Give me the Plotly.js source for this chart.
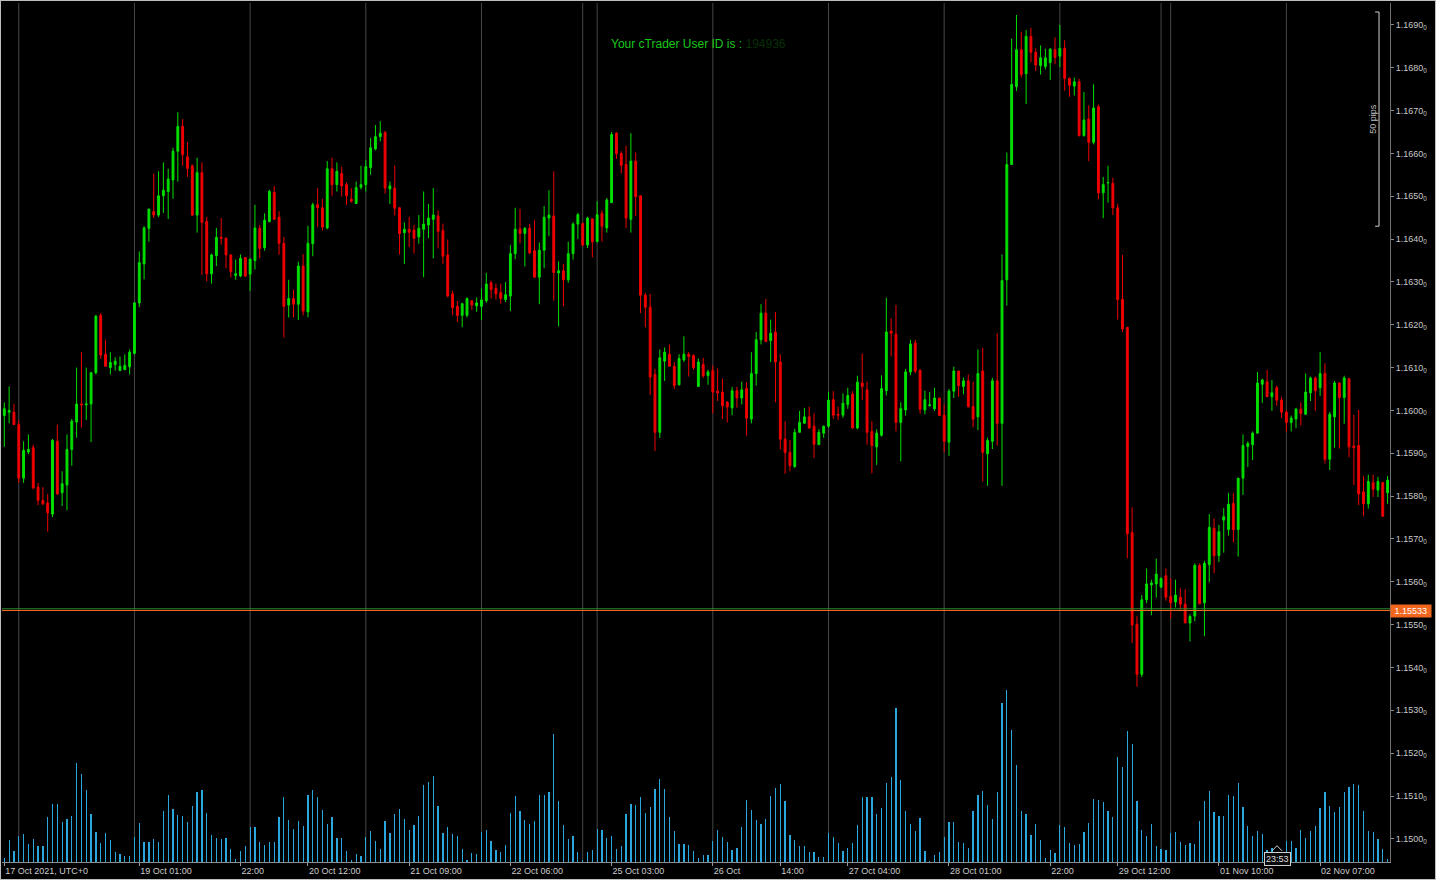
<!DOCTYPE html>
<html><head><meta charset="utf-8">
<script src="https://cdn.plot.ly/plotly-3.0.1.min.js"></script>
<style>
html,body{margin:0;padding:0;background:#000;overflow:hidden;}
#wrap{position:absolute;left:0;top:0;width:1434px;height:878px;border:1px solid #bdbdbd;background:#000;}
#chart{width:1434px;height:878px;}
</style></head><body><div id="wrap"><div id="chart"></div></div>
<script>
// EURUSD-like H1 candles, index 0 = 17 Oct 2021 21:00 UTC
const openP = [
1.15988,1.15996,1.15996,1.15967,1.15842,1.15903,1.15913,1.15821,1.15790,1.15784,
1.15758,1.15928,1.15808,1.15826,1.15909,1.15973,1.16015,1.16013,1.16015,1.16088,
1.16222,1.16131,1.16100,1.16107,1.16093,1.16095,1.16102,1.16133,1.16251,1.16342,
1.16425,1.16464,1.16456,1.16501,1.16511,1.16538,1.16605,1.16663,1.16592,1.16571,
1.16456,1.16555,1.16441,1.16319,1.16361,1.16404,1.16402,1.16363,1.16315,1.16314,
1.16357,1.16318,1.16350,1.16425,1.16380,1.16441,1.16509,1.16451,1.16390,1.16246,
1.16261,1.16248,1.16337,1.16230,1.16389,1.16480,1.16473,1.16426,1.16564,1.16527,
1.16553,1.16527,1.16493,1.16483,1.16521,1.16527,1.16567,1.16610,1.16639,1.16649,
1.16517,1.16519,1.16473,1.16415,1.16423,1.16421,1.16405,1.16423,1.16433,1.16446,
1.16454,1.16420,1.16363,1.16272,1.16243,1.16222,1.16222,1.16256,1.16244,1.16243,
1.16256,1.16298,1.16285,1.16275,1.16259,1.16267,1.16366,1.16423,1.16413,1.16425,
1.16373,1.16311,1.16374,1.16449,1.16454,1.16321,1.16326,1.16305,1.16366,1.16435,
1.16436,1.16386,1.16447,1.16394,1.16460,1.16426,1.16485,1.16647,1.16600,1.16574,
1.16446,1.16582,1.16501,1.16269,1.16241,1.16084,1.15949,1.16115,1.16131,1.16103,
1.16060,1.16118,1.16131,1.16128,1.16056,1.16107,1.16081,1.16093,1.16045,1.16043,
1.16019,1.16006,1.16046,1.16029,1.16051,1.15980,1.16086,1.16165,1.16227,1.16163,
1.16183,1.16113,1.15933,1.15902,1.15869,1.15949,1.15970,1.15985,1.15963,1.15920,
1.15947,1.15963,1.16025,1.15991,1.15989,1.16014,1.16038,1.15959,1.16064,1.16048,
1.15951,1.15915,1.15942,1.16046,1.16185,1.16178,1.15972,1.16001,1.16090,1.16157,
1.16093,1.16001,1.16011,1.16004,1.16029,1.15989,1.15926,1.16045,1.16092,1.16056,
1.16069,1.16009,1.15985,1.16092,1.15899,1.15928,1.16069,1.15970,1.16305,1.16574,
1.16756,1.16842,1.16786,1.16873,1.16836,1.16805,1.16803,1.16812,1.16842,1.16827,
1.16845,1.16775,1.16757,1.16767,1.16642,1.16680,1.16626,1.16709,1.16508,1.16531,
1.16530,1.16473,1.16259,1.16194,1.15715,1.15501,1.15384,1.15558,1.15593,1.15595,
1.15588,1.15614,1.15566,1.15553,1.15564,1.15548,1.15504,1.15520,1.15638,1.15551,
1.15640,1.15725,1.15661,1.15744,1.15722,1.15783,1.15722,1.15842,1.15916,1.15920,
1.15947,1.16061,1.16067,1.16032,1.16053,1.16024,1.15996,1.15972,1.15980,1.16003,
1.15991,1.16041,1.16076,1.16053,1.16086,1.15886,1.15985,1.16064,1.16030,1.16074,
1.15917,1.15918,1.15810,1.15782,1.15832,1.15814,1.15832,1.15808];
const highP = [
1.16019,1.16056,1.16015,1.15977,1.15928,1.15944,1.15920,1.15831,1.15821,1.15805,
1.15933,1.15967,1.15858,1.15944,1.15980,1.16100,1.16136,1.16100,1.16090,1.16223,
1.16227,1.16165,1.16136,1.16124,1.16126,1.16131,1.16142,1.16253,1.16371,1.16430,
1.16470,1.16553,1.16558,1.16579,1.16564,1.16613,1.16696,1.16680,1.16626,1.16574,
1.16590,1.16579,1.16452,1.16366,1.16426,1.16449,1.16404,1.16364,1.16352,1.16364,
1.16358,1.16355,1.16480,1.16433,1.16460,1.16515,1.16524,1.16465,1.16405,1.16305,
1.16282,1.16347,1.16365,1.16431,1.16485,1.16519,1.16494,1.16582,1.16590,1.16579,
1.16569,1.16532,1.16519,1.16534,1.16571,1.16584,1.16636,1.16666,1.16675,1.16652,
1.16534,1.16572,1.16475,1.16439,1.16452,1.16433,1.16456,1.16511,1.16482,1.16519,
1.16467,1.16436,1.16399,1.16279,1.16256,1.16251,1.16264,1.16256,1.16264,1.16284,
1.16321,1.16303,1.16296,1.16296,1.16300,1.16386,1.16473,1.16470,1.16428,1.16435,
1.16444,1.16392,1.16477,1.16514,1.16558,1.16348,1.16342,1.16394,1.16439,1.16461,
1.16439,1.16452,1.16449,1.16488,1.16467,1.16496,1.16650,1.16650,1.16605,1.16618,
1.16647,1.16602,1.16501,1.16275,1.16272,1.16097,1.16142,1.16147,1.16154,1.16113,
1.16131,1.16173,1.16136,1.16131,1.16121,1.16123,1.16095,1.16105,1.16098,1.16074,
1.16022,1.16055,1.16055,1.16067,1.16066,1.16136,1.16183,1.16248,1.16260,1.16212,
1.16230,1.16131,1.15975,1.15931,1.15957,1.15999,1.16006,1.16009,1.15993,1.15956,
1.15965,1.16043,1.16045,1.16009,1.16040,1.16053,1.16045,1.16081,1.16133,1.16067,
1.15975,1.15956,1.16082,1.16263,1.16215,1.16246,1.16019,1.16097,1.16165,1.16165,
1.16097,1.16046,1.16043,1.16053,1.16029,1.16014,1.16050,1.16102,1.16092,1.16077,
1.16084,1.16067,1.16142,1.16146,1.15936,1.16076,1.16180,1.16364,1.16602,1.16868,
1.16923,1.16884,1.16888,1.16893,1.16845,1.16852,1.16844,1.16846,1.16871,1.16900,
1.16864,1.16777,1.16777,1.16774,1.16743,1.16712,1.16761,1.16714,1.16545,1.16571,
1.16543,1.16483,1.16363,1.16194,1.15774,1.15520,1.15569,1.15631,1.15605,1.15654,
1.15610,1.15631,1.15608,1.15605,1.15585,1.15583,1.15524,1.15643,1.15643,1.15649,
1.15758,1.15748,1.15733,1.15772,1.15807,1.15807,1.15842,1.15944,1.15928,1.15951,
1.16090,1.16074,1.16095,1.16071,1.16058,1.16032,1.16001,1.15988,1.16006,1.16019,
1.16086,1.16079,1.16079,1.16136,1.16110,1.15996,1.16069,1.16066,1.16081,1.16076,
1.15990,1.16001,1.15847,1.15850,1.15850,1.15845,1.15832,1.15847];
const lowP = [
1.15915,1.15970,1.15967,1.15831,1.15831,1.15898,1.15816,1.15779,1.15779,1.15717,
1.15751,1.15803,1.15777,1.15767,1.15871,1.15936,1.15960,1.15978,1.15926,1.16084,
1.16120,1.16103,1.16084,1.16093,1.16093,1.16095,1.16084,1.16131,1.16241,1.16306,
1.16394,1.16449,1.16451,1.16461,1.16447,1.16494,1.16534,1.16571,1.16545,1.16454,
1.16415,1.16316,1.16301,1.16296,1.16337,1.16387,1.16332,1.16310,1.16305,1.16311,
1.16311,1.16279,1.16329,1.16355,1.16373,1.16439,1.16446,1.16363,1.16170,1.16217,
1.16217,1.16211,1.16222,1.16217,1.16360,1.16428,1.16420,1.16423,1.16501,1.16511,
1.16499,1.16480,1.16485,1.16483,1.16516,1.16511,1.16550,1.16607,1.16628,1.16506,
1.16482,1.16455,1.16364,1.16342,1.16381,1.16366,1.16389,1.16311,1.16402,1.16355,
1.16378,1.16342,1.16264,1.16222,1.16206,1.16194,1.16217,1.16235,1.16230,1.16211,
1.16251,1.16261,1.16259,1.16249,1.16253,1.16232,1.16353,1.16390,1.16336,1.16364,
1.16311,1.16248,1.16332,1.16407,1.16256,1.16196,1.16243,1.16298,1.16352,1.16400,
1.16383,1.16379,1.16357,1.16392,1.16394,1.16415,1.16485,1.16587,1.16553,1.16426,
1.16415,1.16454,1.16227,1.16194,1.16036,1.15905,1.15936,1.16069,1.16103,1.16050,
1.16058,1.16113,1.16079,1.16095,1.16056,1.16076,1.16060,1.15993,1.16022,1.15980,
1.15972,1.15989,1.16006,1.16014,1.15941,1.15970,1.16058,1.16154,1.16161,1.16113,
1.16019,1.15909,1.15852,1.15858,1.15866,1.15949,1.15970,1.15957,1.15889,1.15920,
1.15936,1.15959,1.15980,1.15978,1.15983,1.16004,1.15957,1.15956,1.16024,1.15920,
1.15853,1.15873,1.15939,1.16035,1.16126,1.15951,1.15881,1.15988,1.16082,1.16087,
1.15993,1.15991,1.16009,1.15999,1.15988,1.15902,1.15894,1.16029,1.16032,1.16038,
1.16006,1.15961,1.15954,1.15834,1.15824,1.15910,1.15918,1.15824,1.16245,1.16574,
1.16746,1.16777,1.16715,1.16813,1.16792,1.16784,1.16796,1.16771,1.16808,1.16801,
1.16746,1.16732,1.16735,1.16639,1.16639,1.16582,1.16621,1.16493,1.16449,1.16485,
1.16456,1.16212,1.16183,1.15655,1.15457,1.15355,1.15378,1.15550,1.15522,1.15563,
1.15585,1.15556,1.15514,1.15540,1.15533,1.15504,1.15461,1.15508,1.15547,1.15473,
1.15599,1.15620,1.15646,1.15668,1.15708,1.15692,1.15659,1.15803,1.15868,1.15884,
1.15947,1.16017,1.16032,1.15999,1.16011,1.15982,1.15951,1.15951,1.15959,1.15965,
1.15991,1.16022,1.15999,1.16034,1.15876,1.15861,1.15913,1.15911,1.15969,1.15891,
1.15826,1.15779,1.15753,1.15771,1.15798,1.15798,1.15753,1.15782];
const closeP = [
1.16004,1.16000,1.15967,1.15842,1.15907,1.15909,1.15819,1.15790,1.15782,1.15761,
1.15930,1.15805,1.15829,1.15909,1.15975,1.16015,1.16013,1.16015,1.16088,1.16220,
1.16129,1.16103,1.16112,1.16115,1.16103,1.16105,1.16136,1.16251,1.16345,1.16426,
1.16470,1.16456,1.16501,1.16514,1.16540,1.16605,1.16663,1.16597,1.16565,1.16456,
1.16555,1.16439,1.16319,1.16363,1.16404,1.16402,1.16363,1.16324,1.16319,1.16355,
1.16314,1.16353,1.16426,1.16378,1.16444,1.16511,1.16446,1.16390,1.16243,1.16261,
1.16248,1.16337,1.16232,1.16390,1.16480,1.16473,1.16428,1.16564,1.16527,1.16558,
1.16524,1.16501,1.16488,1.16520,1.16527,1.16569,1.16613,1.16639,1.16647,1.16519,
1.16524,1.16472,1.16413,1.16423,1.16416,1.16402,1.16425,1.16435,1.16449,1.16456,
1.16418,1.16360,1.16267,1.16240,1.16222,1.16249,1.16261,1.16246,1.16251,1.16258,
1.16295,1.16282,1.16272,1.16261,1.16270,1.16366,1.16423,1.16413,1.16425,1.16368,
1.16311,1.16374,1.16451,1.16456,1.16322,1.16326,1.16305,1.16366,1.16435,1.16457,
1.16386,1.16449,1.16394,1.16457,1.16430,1.16491,1.16644,1.16600,1.16572,1.16449,
1.16582,1.16499,1.16269,1.16241,1.16078,1.15949,1.16123,1.16136,1.16103,1.16058,
1.16121,1.16131,1.16126,1.16100,1.16113,1.16081,1.16090,1.16043,1.16041,1.16011,
1.16008,1.16046,1.16029,1.16048,1.15982,1.16086,1.16165,1.16227,1.16161,1.16180,
1.16113,1.15933,1.15902,1.15871,1.15949,1.15972,1.15985,1.15959,1.15921,1.15949,
1.15963,1.16024,1.15989,1.15989,1.16017,1.16035,1.15959,1.16066,1.16056,1.15949,
1.15918,1.15947,1.16051,1.16183,1.16180,1.15972,1.16004,1.16090,1.16155,1.16092,
1.16003,1.16025,1.16013,1.16029,1.15988,1.15928,1.16045,1.16092,1.16058,1.16069,
1.16009,1.15980,1.16086,1.15902,1.15930,1.16069,1.15970,1.16303,1.16574,1.16761,
1.16842,1.16784,1.16873,1.16836,1.16806,1.16823,1.16823,1.16843,1.16824,1.16845,
1.16775,1.16759,1.16767,1.16642,1.16678,1.16626,1.16706,1.16508,1.16527,1.16532,
1.16473,1.16259,1.16190,1.15712,1.15499,1.15384,1.15558,1.15595,1.15597,1.15618,
1.15608,1.15564,1.15551,1.15569,1.15548,1.15504,1.15519,1.15638,1.15549,1.15643,
1.15727,1.15661,1.15717,1.15752,1.15781,1.15722,1.15842,1.15918,1.15923,1.15947,
1.16064,1.16071,1.16032,1.16041,1.16024,1.15996,1.15972,1.15982,1.16003,1.15993,
1.16043,1.16076,1.16046,1.16086,1.15886,1.15991,1.16064,1.16030,1.16076,1.15915,
1.15913,1.15805,1.15782,1.15834,1.15816,1.15834,1.15753,1.15837];
const volume = [
120,670,320,770,840,550,690,470,490,1340,
1750,1750,1200,1300,1390,2970,2650,2170,1440,890,
570,870,670,300,250,170,190,750,1170,600,
600,690,600,1520,2020,1590,1420,1390,1190,1670,
2110,2170,1470,800,720,690,720,390,100,340,
470,1040,1040,600,520,600,600,1350,1940,1270,
1000,1240,1070,2020,2170,1940,1550,1150,1350,720,
720,340,70,250,190,750,920,640,400,1220,
870,1440,1590,1300,970,1100,1390,2300,2390,2590,
1670,870,1040,840,790,400,70,270,250,890,
950,640,370,290,500,1470,1990,1520,1270,1150,
1240,2020,2020,2100,3840,1820,1100,690,790,290,
70,300,370,1000,970,720,770,400,470,1450,
1750,1720,1950,1470,1640,2200,2500,2200,1340,940,
550,550,520,340,120,
220,200,620,970,750,600,370,420,1040,1870,
1550,1270,1150,1300,1970,2220,2340,1840,820,670,
490,490,290,300,150,140,870,750,570,320,
420,570,1100,1950,1950,1940,1440,1620,2370,2540,
4620,2470,1520,1150,920,1320,340,40,220,290,
750,1200,1200,600,570,420,1520,2020,2140,1720,
1300,2100,4770,5170,3950,2920,1520,1440,800,1150,
670,120,370,270,1120,1040,570,500,550,890,
1170,1900,1870,1790,1520,1350,3150,2850,3920,3550,
1840,970,770,1140,490,390,370,870,890,600,
520,570,550,1240,1840,2140,1490,1370,1370,2020,
1970,2370,1640,1090,770,940,850,350,420,270,
170,640,620,420,970,720,920,1090,1620,2100,
1670,1490,1640,2100,2250,2340,2300,1520,940,890,
690,400,100];

// time-axis labels (bar index -> text)
const timeTickIdx = [0,28,49,63,84,105,126,147,161,175,196,217,231,252,273];
const timeTickText = ['17 Oct 2021, UTC+0','19 Oct 01:00','22:00','20 Oct 12:00','21 Oct 09:00',
  '22 Oct 06:00','25 Oct 03:00','26 Oct','14:00','27 Oct 04:00','28 Oct 01:00','22:00',
  '29 Oct 12:00','01 Nov 10:00','02 Nov 07:00'];
// day / session separators (bar index)
const separatorIdx = [3,27,51,75,99,120,123,147,171,195,219,240,242,266];
// price axis ticks
const priceTicks = [1.1500,1.1510,1.1520,1.1530,1.1540,1.1550,1.1560,1.1570,1.1580,1.1590,
  1.1600,1.1610,1.1620,1.1630,1.1640,1.1650,1.1660,1.1670,1.1680,1.1690];
const bidPrice = 1.15533;
const askPrice = 1.15537;
const userIdText = 'Your cTrader User ID is : ';
const userIdNum = '194936';

const n = openP.length;
if ([highP.length, lowP.length, closeP.length, volume.length].some(l => l !== n)) {
  throw new Error('length mismatch ' + [n, highP.length, lowP.length, closeP.length, volume.length].join(','));
}
const xIdx = openP.map((_, i) => i);

const candles = {
  type: 'candlestick', x: xIdx, open: openP, high: highP, low: lowP, close: closeP,
  increasing: {line: {color: '#00e000', width: 1}, fillcolor: '#00e000'},
  decreasing: {line: {color: '#f00000', width: 1}, fillcolor: '#f00000'},
  whiskerwidth: 0, hoverinfo: 'skip', xaxis: 'x', yaxis: 'y'
};
const vols = {
  type: 'bar', x: xIdx, y: volume, width: 0.26,
  marker: {color: '#2aa7dd', line: {width: 0}},
  xaxis: 'x', yaxis: 'y2', hoverinfo: 'skip'
};

const grid = '#474747';
const shapes = separatorIdx.map(i => ({
  type: 'line', xref: 'x', yref: 'paper', x0: i, x1: i, y0: 0, y1: 1,
  line: {color: grid, width: 1}, layer: 'below'
}));
shapes.push({type: 'line', xref: 'paper', yref: 'y', x0: 0, x1: 1, y0: askPrice, y1: askPrice,
  line: {color: '#2f8f2f', width: 1}});
shapes.push({type: 'line', xref: 'paper', yref: 'y', x0: 0, x1: 1, y0: bidPrice, y1: bidPrice,
  line: {color: '#f0661e', width: 1}});
// 50 pips ruler
const rulerTop = 1.1693, rulerBot = 1.1643;
shapes.push({type: 'line', xref: 'paper', yref: 'y', x0: 0.9921, x1: 0.9921, y0: rulerBot, y1: rulerTop,
  line: {color: '#cfcfcf', width: 1}});
shapes.push({type: 'line', xref: 'paper', yref: 'y', x0: 0.9893, x1: 0.9921, y0: rulerTop, y1: rulerTop,
  line: {color: '#cfcfcf', width: 1}});
shapes.push({type: 'line', xref: 'paper', yref: 'y', x0: 0.9893, x1: 0.9921, y0: rulerBot, y1: rulerBot,
  line: {color: '#cfcfcf', width: 1}});
// caret above the bar-timer box
shapes.push({type: 'path', xref: 'paper', yref: 'paper',
  path: 'M0.9150,0.0130 L0.9186,0.0190 L0.9222,0.0130', line: {color: '#cfcfcf', width: 1}});

const annotations = [
  {xref: 'paper', yref: 'paper', x: 0.4375, y: 0.952, xanchor: 'left', yanchor: 'middle', showarrow: false,
   text: '<span style="color:#17c817">' + userIdText + '</span><span style="color:#072f07">' + userIdNum + '</span>',
   font: {family: 'Liberation Sans, Arial, sans-serif', size: 12}},
  {xref: 'paper', yref: 'y', x: 1, y: bidPrice, xanchor: 'left', yanchor: 'middle', showarrow: false,
   text: ' 1.15533 ', bgcolor: '#f0661e', borderpad: 1,
   font: {family: 'Liberation Sans, Arial, sans-serif', size: 9, color: '#ffffff'}},
  {xref: 'paper', yref: 'y', x: 0.9875, y: (rulerTop + rulerBot) / 2, xanchor: 'center', yanchor: 'middle',
   showarrow: false, text: '50 pips', textangle: -90,
   font: {family: 'Liberation Sans, Arial, sans-serif', size: 9, color: '#bdbdbd'}},
  {xref: 'paper', yref: 'paper', x: 0.9186, y: 0.004, xanchor: 'center', yanchor: 'middle', showarrow: false,
   text: '23:53', bgcolor: '#0a0a0a', bordercolor: '#cfcfcf', borderwidth: 1, borderpad: 1,
   font: {family: 'Liberation Sans, Arial, sans-serif', size: 9, color: '#dcdcdc'}}
];

const layout = {
  width: 1434, height: 878,
  paper_bgcolor: '#000', plot_bgcolor: '#000',
  margin: {l: 1, r: 45, t: 2, b: 17},
  showlegend: false, boxgap: 0.45, bargap: 0, dragmode: false,
  font: {family: 'Liberation Sans, Arial, sans-serif', size: 9, color: '#c8c8c8'},
  xaxis: {
    range: [-0.48, 287.5], rangeslider: {visible: false}, showgrid: false, zeroline: false,
    tickmode: 'array', tickvals: timeTickIdx, ticktext: timeTickText,
    ticks: 'outside', ticklen: 3, tickcolor: '#9a9a9a', ticklabelposition: 'outside right',
    showline: true, linecolor: '#8c8c8c', linewidth: 1,
    tickfont: {size: 9, color: '#cccccc'}, fixedrange: true
  },
  yaxis: {
    side: 'right', range: [1.14946, 1.16951], showgrid: false, zeroline: false,
    tickmode: 'array', tickvals: priceTicks,
    ticktext: priceTicks.map(v => v.toFixed(4) + '<sub>0</sub>'),
    ticks: 'outside', ticklen: 3, tickcolor: '#8a8a8a',
    showline: true, linecolor: '#6e6e6e', linewidth: 1,
    tickfont: {size: 9, color: '#c8c8c8'}, fixedrange: true
  },
  yaxis2: {overlaying: 'y', range: [0, 25770], visible: false, fixedrange: true},
  shapes, annotations
};

Plotly.newPlot('chart', [vols, candles], layout, {displayModeBar: false, staticPlot: true});
</script></body></html>
